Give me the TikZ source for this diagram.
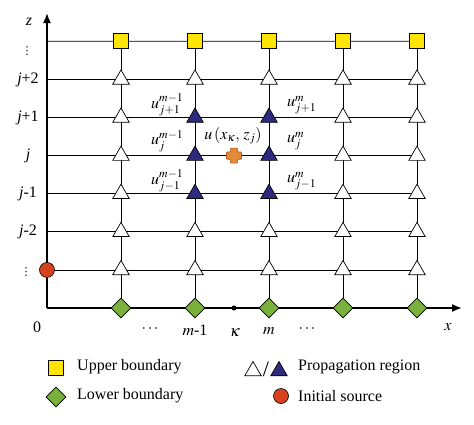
\documentclass[tikz,border=0pt]{standalone}
\usepackage{mathptmx}
\usepackage{fontspec}
\setmainfont{Liberation Serif}
\newfontfamily\dejavu{DejaVu Sans}
\usetikzlibrary{shapes.geometric,arrows.meta,backgrounds}
\definecolor{ubyellow}{RGB}{255,228,0}
\definecolor{lbgreen}{RGB}{122,176,60}
\definecolor{propblue}{RGB}{46,42,128}
\definecolor{srcred}{RGB}{214,66,30}
\definecolor{crossor}{RGB}{227,139,58}
\definecolor{crossedge}{RGB}{170,90,30}
\begin{document}
\begin{tikzpicture}[x=1pt,y=-1pt,
  gridline/.style={line width=0.8pt},
  axisline/.style={line width=1.6pt},
  upper/.style={rectangle, draw, fill=ubyellow, minimum size=15pt, inner sep=0pt, line width=0.7pt},
  lower/.style={diamond, draw, fill=lbgreen, minimum size=20pt, inner sep=0pt, line width=0.7pt},
  tri/.style={regular polygon, regular polygon sides=3, draw, fill=white, minimum size=19pt, inner sep=0pt, line width=0.7pt},
  btri/.style={tri, fill=propblue},
  srcnode/.style={circle, draw, fill=srcred, minimum size=15pt, inner sep=0pt, line width=0.6pt},
  crossst/.style={draw=crossedge, fill=crossor, line width=0.6pt, rounded corners=0.8pt},
  lbl/.style={font=\fontsize{16}{19}\selectfont, inner sep=0pt},
  vdl/.style={font=\dejavu\fontsize{11}{12}\selectfont, inner sep=0pt}]
\useasboundingbox (0,0) rectangle (474,424);

% grid nodes
\foreach \c in {1,...,5}{
  \pgfmathsetmacro\xx{121+74*(\c-1)}
  \node[lower] (n-\c-0) at (\xx,308) {};
  \node[upper] (n-\c-7) at (\xx,41.3) {};
  \foreach \r in {1,...,6}{
    \pgfmathsetmacro\yy{308-38.1*\r}
    \pgfmathtruncatemacro\isb{((\c==2)||(\c==3))&&(\r>=3)&&(\r<=5)}
    \def\sty{tri}
    \ifnum\isb=1 \def\sty{btri}\fi
    \node[\sty] (n-\c-\r) at (\xx,\yy) {};
  }
}

% axis coordinates
\coordinate (o) at (47,308);
\coordinate (zt) at (47,13);
\coordinate (xt) at (462,308);
\foreach \r in {1,...,7}{
  \pgfmathsetmacro\yy{308-38.1*\r}
  \coordinate (ax-\r) at (47,\yy);
}

\begin{scope}[on background layer]
  \foreach \r in {1,...,7} \draw[gridline] (ax-\r) -- (n-5-\r.center);
  \foreach \c in {1,...,5} \draw[gridline] (n-\c-0.center) -- (n-\c-7.center);
  \draw[axisline,-{Latex[length=10pt,width=8pt]}] (o) -- (zt);
  \draw[axisline,-{Latex[length=10pt,width=8pt]}] (o) -- (xt);
\end{scope}

% initial source and kappa point
\node[srcnode] (src) at (ax-1) {};
\node[circle, fill=black, inner sep=0pt, minimum size=5pt] (kap) at (234,308) {};

% source point u(x_kappa, z_j)
\coordinate (uk) at (234,155.6);
\draw[crossst, shift={(uk)}] (-3.6,-7.5) -- (3.6,-7.5) -- (3.6,-3.6) -- (7.5,-3.6) -- (7.5,3.6) -- (3.6,3.6) -- (3.6,7.5) -- (-3.6,7.5) -- (-3.6,3.6) -- (-7.5,3.6) -- (-7.5,-3.6) -- (-3.6,-3.6) -- cycle;

% left labels
\node[lbl] (lz) at (29,22) {\textit{z}};
\node[vdl] (ld1) at (27,51) {⋮};
\node[lbl] (lj2) at (28,80) {\textit{j}+2};
\node[lbl] (lj1) at (28,118) {\textit{j}+1};
\node[lbl] (lj) at (28,156) {\textit{j}};
\node[lbl] (ljm1) at (28,194) {\textit{j}-1};
\node[lbl] (ljm2) at (28,232) {\textit{j}-2};
\node[vdl] (ld2) at (26,272) {⋮};

% bottom labels
\node[lbl] (l0) at (37,327) {0};
\node[lbl] (ldots1) at (150,329) {$\cdots$};
\node[lbl] (lm1) at (195,330) {$m$-1};
\node[lbl] (lkap) at (235,332) {$\kappa$};
\node[lbl] (lm) at (269,331) {$m$};
\node[lbl] (ldots2) at (307,329) {$\cdots$};
\node[lbl] (lx) at (448,327) {$x$};

% u labels
\node[lbl, anchor=west] (ul1) at (151,105) {$u^{m-1}_{j+1}$};
\node[lbl, anchor=west] (ul2) at (151,141) {$u^{m-1}_{j}$};
\node[lbl, anchor=west] (ul3) at (151,181) {$u^{m-1}_{j-1}$};
\node[lbl, anchor=west] (ur1) at (287,105) {$u^{m}_{j+1}$};
\node[lbl, anchor=west] (ur2) at (287,141) {$u^{m}_{j}$};
\node[lbl, anchor=west] (ur3) at (287,181) {$u^{m}_{j-1}$};
\node[lbl] (uxk) at (233,136) {$u\,(x_\kappa,\,z_j)$};

% legend
\node[upper] (lg1) at (56,368) {};
\node[lbl, anchor=west] (lg1t) at (77,367) {Upper boundary};
\node[lower] (lg2) at (56,397) {};
\node[lbl, anchor=west] (lg2t) at (77,396) {Lower boundary};
\node[tri] (lg3a) at (253,371) {};
\node[btri] (lg3b) at (279,371) {};
\node[font=\fontsize{22}{24}\selectfont, inner sep=0pt] (lg3s) at (266,369) {/};
\node[lbl, anchor=west] (lg3t) at (298,367) {Propagation region};
\node[srcnode] (lg4) at (281,396) {};
\node[lbl, anchor=west] (lg4t) at (298,396) {Initial source};
\end{tikzpicture}
\end{document}
